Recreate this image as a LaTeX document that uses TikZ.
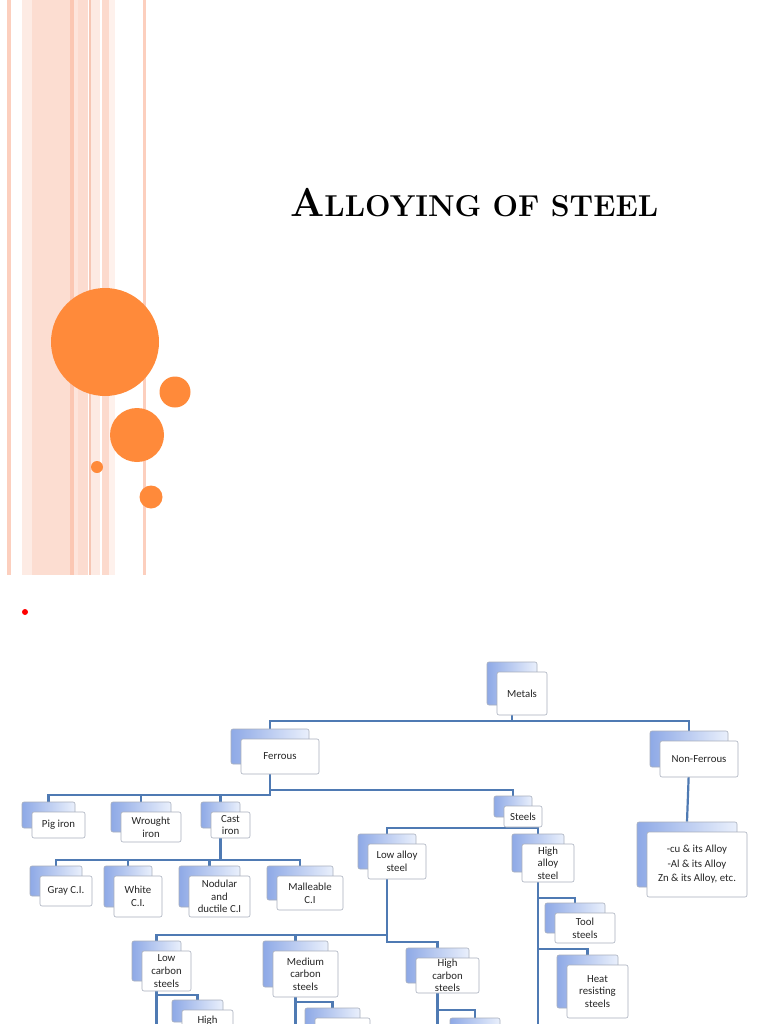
\documentclass[tikz,border=0pt]{standalone}
\usepackage{fontspec}
\newfontfamily\tree{Carlito}
\usetikzlibrary{backgrounds,calc}
\pgfdeclarelayer{bottommost}
\pgfsetlayers{bottommost,background,main}
\definecolor{conn}{HTML}{4F7AB3}
\definecolor{orng}{HTML}{FF8A3A}
\definecolor{bl}{HTML}{8EA9E6}
\definecolor{blr}{HTML}{EAF0FC}
\definecolor{bord}{HTML}{A8AFBD}
\tikzset{
  backbox/.style={draw=bord, line width=0.6pt, rounded corners=2pt, left color=bl, right color=blr, inner sep=0pt},
  frontbox/.style={draw=bord, line width=0.6pt, rounded corners=2pt, fill=white, inner sep=0pt, align=center, font=\tree\fontsize{10.8}{12.6}\selectfont, text=black!85},
  connl/.style={draw=conn, line width=2.2pt},
}
\newcommand\bn[6]{%
  \pgfmathsetmacro\ww{#4-#2}\pgfmathsetmacro\hh{#5-#3}%
  \pgfmathsetmacro\cx{(#2+#4)/2}\pgfmathsetmacro\cy{(#3+#5)/2}%
  \node[backbox, minimum width=\ww pt, minimum height=\hh pt] (#1b) at (\cx-10,\cy-10) {};
  \node[frontbox, minimum width=\ww pt, minimum height=\hh pt] (#1) at (\cx,\cy) {#6};
}
\begin{document}
\begin{tikzpicture}[x=1pt,y=-1pt]
\useasboundingbox (0,0) rectangle (768,1024);
\begin{pgfonlayer}{bottommost}
\fill[white] (0,0) rectangle (768,1024);
\end{pgfonlayer}
% stripes
\foreach \a/\b/\c in {7/11/FCCFBE,22/32/FDEBE4,32/70/FCDDD1,70/74/FBC7B3,74/78/FDE5DC,78/88/FCDCD0,89/90.5/F6C6B4,90.5/100/FDEAE3,102/109/FCDACD,109/115/FEF1EC,143/146/FCCFBE}{
  \definecolor{tmpc}{HTML}{\c}\fill[tmpc] (\a,0) rectangle (\b,575);
}
% circles
\fill[orng] (105,342) circle (54);
\fill[orng] (175,392) circle (15.5);
\fill[orng] (137,435) circle (27);
\fill[orng] (97,467) circle (6);
\fill[orng] (151,497) circle (11.5);
% title
\node[anchor=base west, inner sep=0pt] (title) at (290,217) {\resizebox{368pt}{!}{\bfseries\fontsize{28}{28}\selectfont A\fontsize{21}{21}\selectfont LLOYING OF STEEL}};
% bullet
\fill[red] (25,612) circle (3);
% tree
\bn{metals}{497}{672}{547}{715}{Metals}
\bn{ferrous}{241}{739}{319}{774}{Ferrous}
\bn{nonferrous}{660}{741}{738}{777}{Non-Ferrous}
\bn{pig}{32}{812}{85}{838}{Pig iron}
\bn{wrought}{121}{812}{181}{842}{Wrought\\iron}
\bn{cast}{211}{812}{250}{838}{Cast\\iron}
\bn{steels}{504}{806}{542}{827}{Steels}
\bn{lowalloy}{368}{844}{426}{879}{Low alloy\\steel}
\bn{highalloy}{522}{844}{574}{882}{High\\alloy\\steel}
\bn{nflist}{647}{832}{747}{897}{-cu \& its Alloy\\[2pt]-Al \& its Alloy\\[2pt]Zn \& its Alloy, etc.}
\bn{gray}{40}{876}{92}{906}{Gray C.I.}
\bn{white}{114}{876}{162}{917}{White\\C.I.}
\bn{nodular}{189}{876}{250}{917}{Nodular\\and\\ductile C.I}
\bn{malleable}{277}{876}{343}{910}{Malleable\\C.I}
\bn{lowc}{142}{951}{191}{991}{Low\\carbon\\steels}
\bn{medc}{273}{951}{338}{997}{Medium\\carbon\\steels}
\bn{highc}{416}{958}{479}{993}{High\\carbon\\steels}
\bn{tool}{555}{913}{615}{943}{Tool\\steels}
\bn{heat}{567}{965}{628}{1018}{Heat\\resisting\\steels}
\bn{hca}{182}{1010}{233}{1032}{High}
\bn{mca}{315}{1018}{370}{1040}{}
\bn{hcb}{460}{1028}{510}{1050}{}
\begin{pgfonlayer}{background}
\draw[connl] (metalsb.south) -- ++(0,16) coordinate (m1) -| (ferrousb.north);
\draw[connl] (m1) -| (nonferrousb.north);
\draw[connl] (ferrousb.south) -- ++(0,31) coordinate (f1) -| (pigb.north);
\draw[connl] (f1) -| (wroughtb.north);
\draw[connl] (f1) -| (castb.north);
\draw[connl] ($(ferrousb.south)+(0,26)$) coordinate (f2) -| (steelsb.north);
\draw[connl] (castb.south) -- ++(0,32) coordinate (c1) -| (grayb.north);
\draw[connl] (c1) -| (whiteb.north);
\draw[connl] (c1) -| (nodularb.north);
\draw[connl] (c1) -| (malleableb.north);
\draw[connl] (steelsb.south) -- ++(0,11) coordinate (s1) -| (lowalloyb.north);
\draw[connl] (s1) -| (highalloyb.north);
\draw[connl] (lowalloyb.south) -- ++(0,66) coordinate (l1) -| (lowcb.north);
\draw[connl] (l1) -| (medcb.north);
\draw[connl] (l1) -- ++(0,7) -| (highcb.north);
\draw[connl] (highalloyb.south) -- ++(0,180);
\draw[connl] ($(highalloyb.south)+(0,26)$) -| (toolb.north);
\draw[connl] ($(highalloyb.south)+(0,77)$) -| (heatb.north);
\draw[connl] (lowcb.south) -- ++(0,80);
\draw[connl] ($(lowcb.south)+(0,14)$) -| (hcab.north);
\draw[connl] (medcb.south) -- ++(0,80);
\draw[connl] ($(medcb.south)+(0,15)$) -| (mcab.north);
\draw[connl] (highcb.south) -- ++(0,80);
\draw[connl] ($(highcb.south)+(0,27)$) -| (hcbb.north);
\draw[connl] (nonferrousb.south) -- (nflistb.north);
\end{pgfonlayer}
\end{tikzpicture}
\end{document}
